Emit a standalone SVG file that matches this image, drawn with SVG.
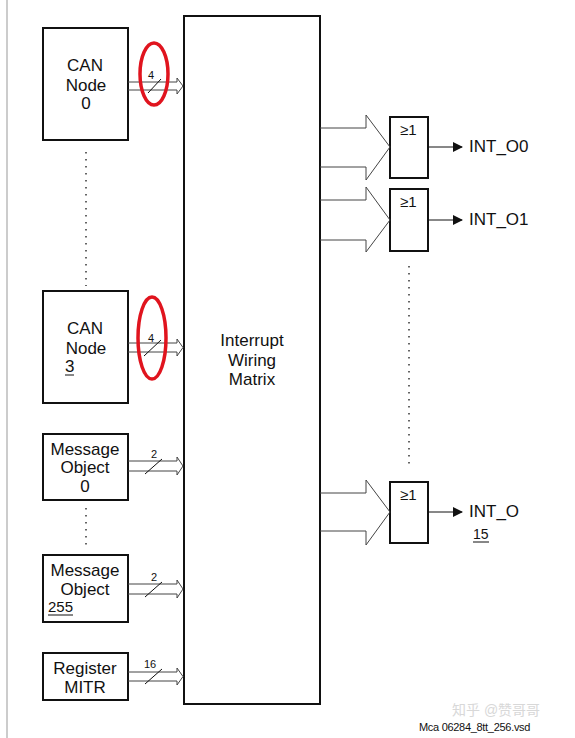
<svg xmlns="http://www.w3.org/2000/svg" width="575" height="738" viewBox="0 0 575 738">
<style>
.box{fill:#fff;stroke:#111;stroke-width:2}
.t{font-family:"Liberation Sans",Arial,sans-serif;font-size:17px;fill:#111;text-anchor:middle}
.tl{font-family:"Liberation Sans",Arial,sans-serif;font-size:17px;fill:#111}
.s{font-family:"Liberation Sans",Arial,sans-serif;font-size:11px;fill:#111}
.bus{fill:none;stroke:#444;stroke-width:1}
.thin{fill:none;stroke:#111;stroke-width:1}
.dot{stroke:#333;stroke-width:1.5;stroke-dasharray:1.5 5.5}
.red{fill:none;stroke:#e0141e;stroke-width:3.5}
</style>
<defs>
<marker id="ah" markerWidth="10" markerHeight="10" refX="9" refY="5" orient="auto" markerUnits="userSpaceOnUse">
<path d="M0,0 L10,5 L0,10 Z" fill="#111"/>
</marker>
</defs>
<rect width="575" height="738" fill="#fff"/>
<line x1="7" y1="0" x2="7" y2="738" stroke="#999" stroke-width="1"/>

<g id="matrix">
<rect class="box" x="184" y="16" width="136" height="688"/>
<text class="t" x="252" y="346">Interrupt</text>
<text class="t" x="252" y="366">Wiring</text>
<text class="t" x="252" y="385">Matrix</text>
</g>

<g id="can0">
<rect class="box" x="43" y="28" width="85" height="112"/>
<text class="t" x="85" y="71">CAN</text>
<text class="t" x="86" y="91">Node</text>
<text class="t" x="86" y="109">0</text>
</g>
<g id="can3">
<rect class="box" x="43" y="291" width="85" height="112"/>
<text class="t" x="85" y="334">CAN</text>
<text class="t" x="86" y="354">Node</text>
<text class="tl" x="65" y="372">3</text>
<line x1="65" y1="375" x2="74" y2="375" stroke="#111" stroke-width="1"/>
</g>
<g id="mo0">
<rect class="box" x="43" y="434" width="85" height="66"/>
<text class="t" x="85" y="455">Message</text>
<text class="t" x="85" y="473">Object</text>
<text class="t" x="85" y="492">0</text>
</g>
<g id="mo255">
<rect class="box" x="43" y="555" width="85" height="67"/>
<text class="t" x="85" y="576">Message</text>
<text class="t" x="85" y="595">Object</text>
<text class="tl" x="48" y="612" style="font-size:15px">255</text>
<line x1="48" y1="615" x2="73" y2="615" stroke="#111" stroke-width="1"/>
</g>
<g id="mitr">
<rect class="box" x="43" y="653" width="85" height="47"/>
<text class="t" x="85" y="674">Register</text>
<text class="t" x="85" y="693">MITR</text>
</g>

<g id="gate0">
<rect class="box" x="390" y="117" width="38" height="61"/>
<text class="tl" x="400" y="135" style="font-size:15px">≥1</text>
<text class="tl" x="469" y="152">INT_O0</text>
</g>
<g id="gate1">
<rect class="box" x="390" y="189" width="38" height="62"/>
<text class="tl" x="400" y="207" style="font-size:15px">≥1</text>
<text class="tl" x="469" y="225">INT_O1</text>
</g>
<g id="gate15">
<rect class="box" x="390" y="482" width="38" height="61"/>
<text class="tl" x="400" y="500" style="font-size:15px">≥1</text>
<text class="tl" x="469" y="517">INT_O</text>
<text class="tl" x="473" y="539" style="font-size:14px">15</text>
<line x1="473" y1="542" x2="489" y2="542" stroke="#111" stroke-width="1"/>
</g>

<g id="connectors">
<!-- input buses -->
<path class="bus" d="M128,82 H177 V78 L183,86 L177,94 V90 H128"/>
<line class="thin" x1="148" y1="93" x2="161" y2="79"/>
<text class="s" x="148" y="79">4</text>

<path class="bus" d="M128,343 H177 V339 L183,347.5 L177,356 V352 H128"/>
<line class="thin" x1="144" y1="356" x2="161" y2="340"/>
<text class="s" x="148" y="342">4</text>

<path class="bus" d="M128,461 H177 V457 L183,466 L177,475 V471 H128"/>
<line class="thin" x1="145" y1="474" x2="162" y2="459"/>
<text class="s" x="151" y="458">2</text>

<path class="bus" d="M128,584 H177 V580 L183,589 L177,598 V594 H128"/>
<line class="thin" x1="145" y1="597" x2="162" y2="582"/>
<text class="s" x="151" y="581">2</text>

<path class="bus" d="M128,672 H177 V668 L183,676.5 L177,685 V681 H128"/>
<line class="thin" x1="145" y1="684" x2="162" y2="669"/>
<text class="s" x="144" y="668">16</text>

<!-- output buses to gates -->
<path class="bus" d="M320,128 H366 V115 L390,147 L366,180 V167 H320"/>
<path class="bus" d="M320,200 H366 V187 L390,220 L366,252 V240 H320"/>
<path class="bus" d="M320,493 H366 V480 L390,512 L366,545 V531 H320"/>

<!-- gate outputs -->
<line class="thin" x1="428" y1="147" x2="462" y2="147" marker-end="url(#ah)"/>
<line class="thin" x1="428" y1="220" x2="462" y2="220" marker-end="url(#ah)"/>
<line class="thin" x1="428" y1="512" x2="462" y2="512" marker-end="url(#ah)"/>

<!-- ellipsis dots -->
<line class="dot" x1="86" y1="152" x2="86" y2="286"/>
<line class="dot" x1="86" y1="508" x2="86" y2="548"/>
<line class="dot" x1="409" y1="266" x2="409" y2="468"/>
</g>

<g id="highlights">
<ellipse class="red" cx="154" cy="74" rx="14" ry="31"/>
<ellipse class="red" cx="152" cy="338" rx="14" ry="41"/>
</g>

<text class="tl" x="452" y="715" style="font-size:14px;fill:#d8d8d8;font-family:'Liberation Sans','Noto Sans CJK SC',sans-serif">知乎 @赞哥哥</text>
<text class="tl" x="419" y="731" style="font-size:11px;letter-spacing:-0.3px">Mca 06284_8tt_256.vsd</text>
</svg>
